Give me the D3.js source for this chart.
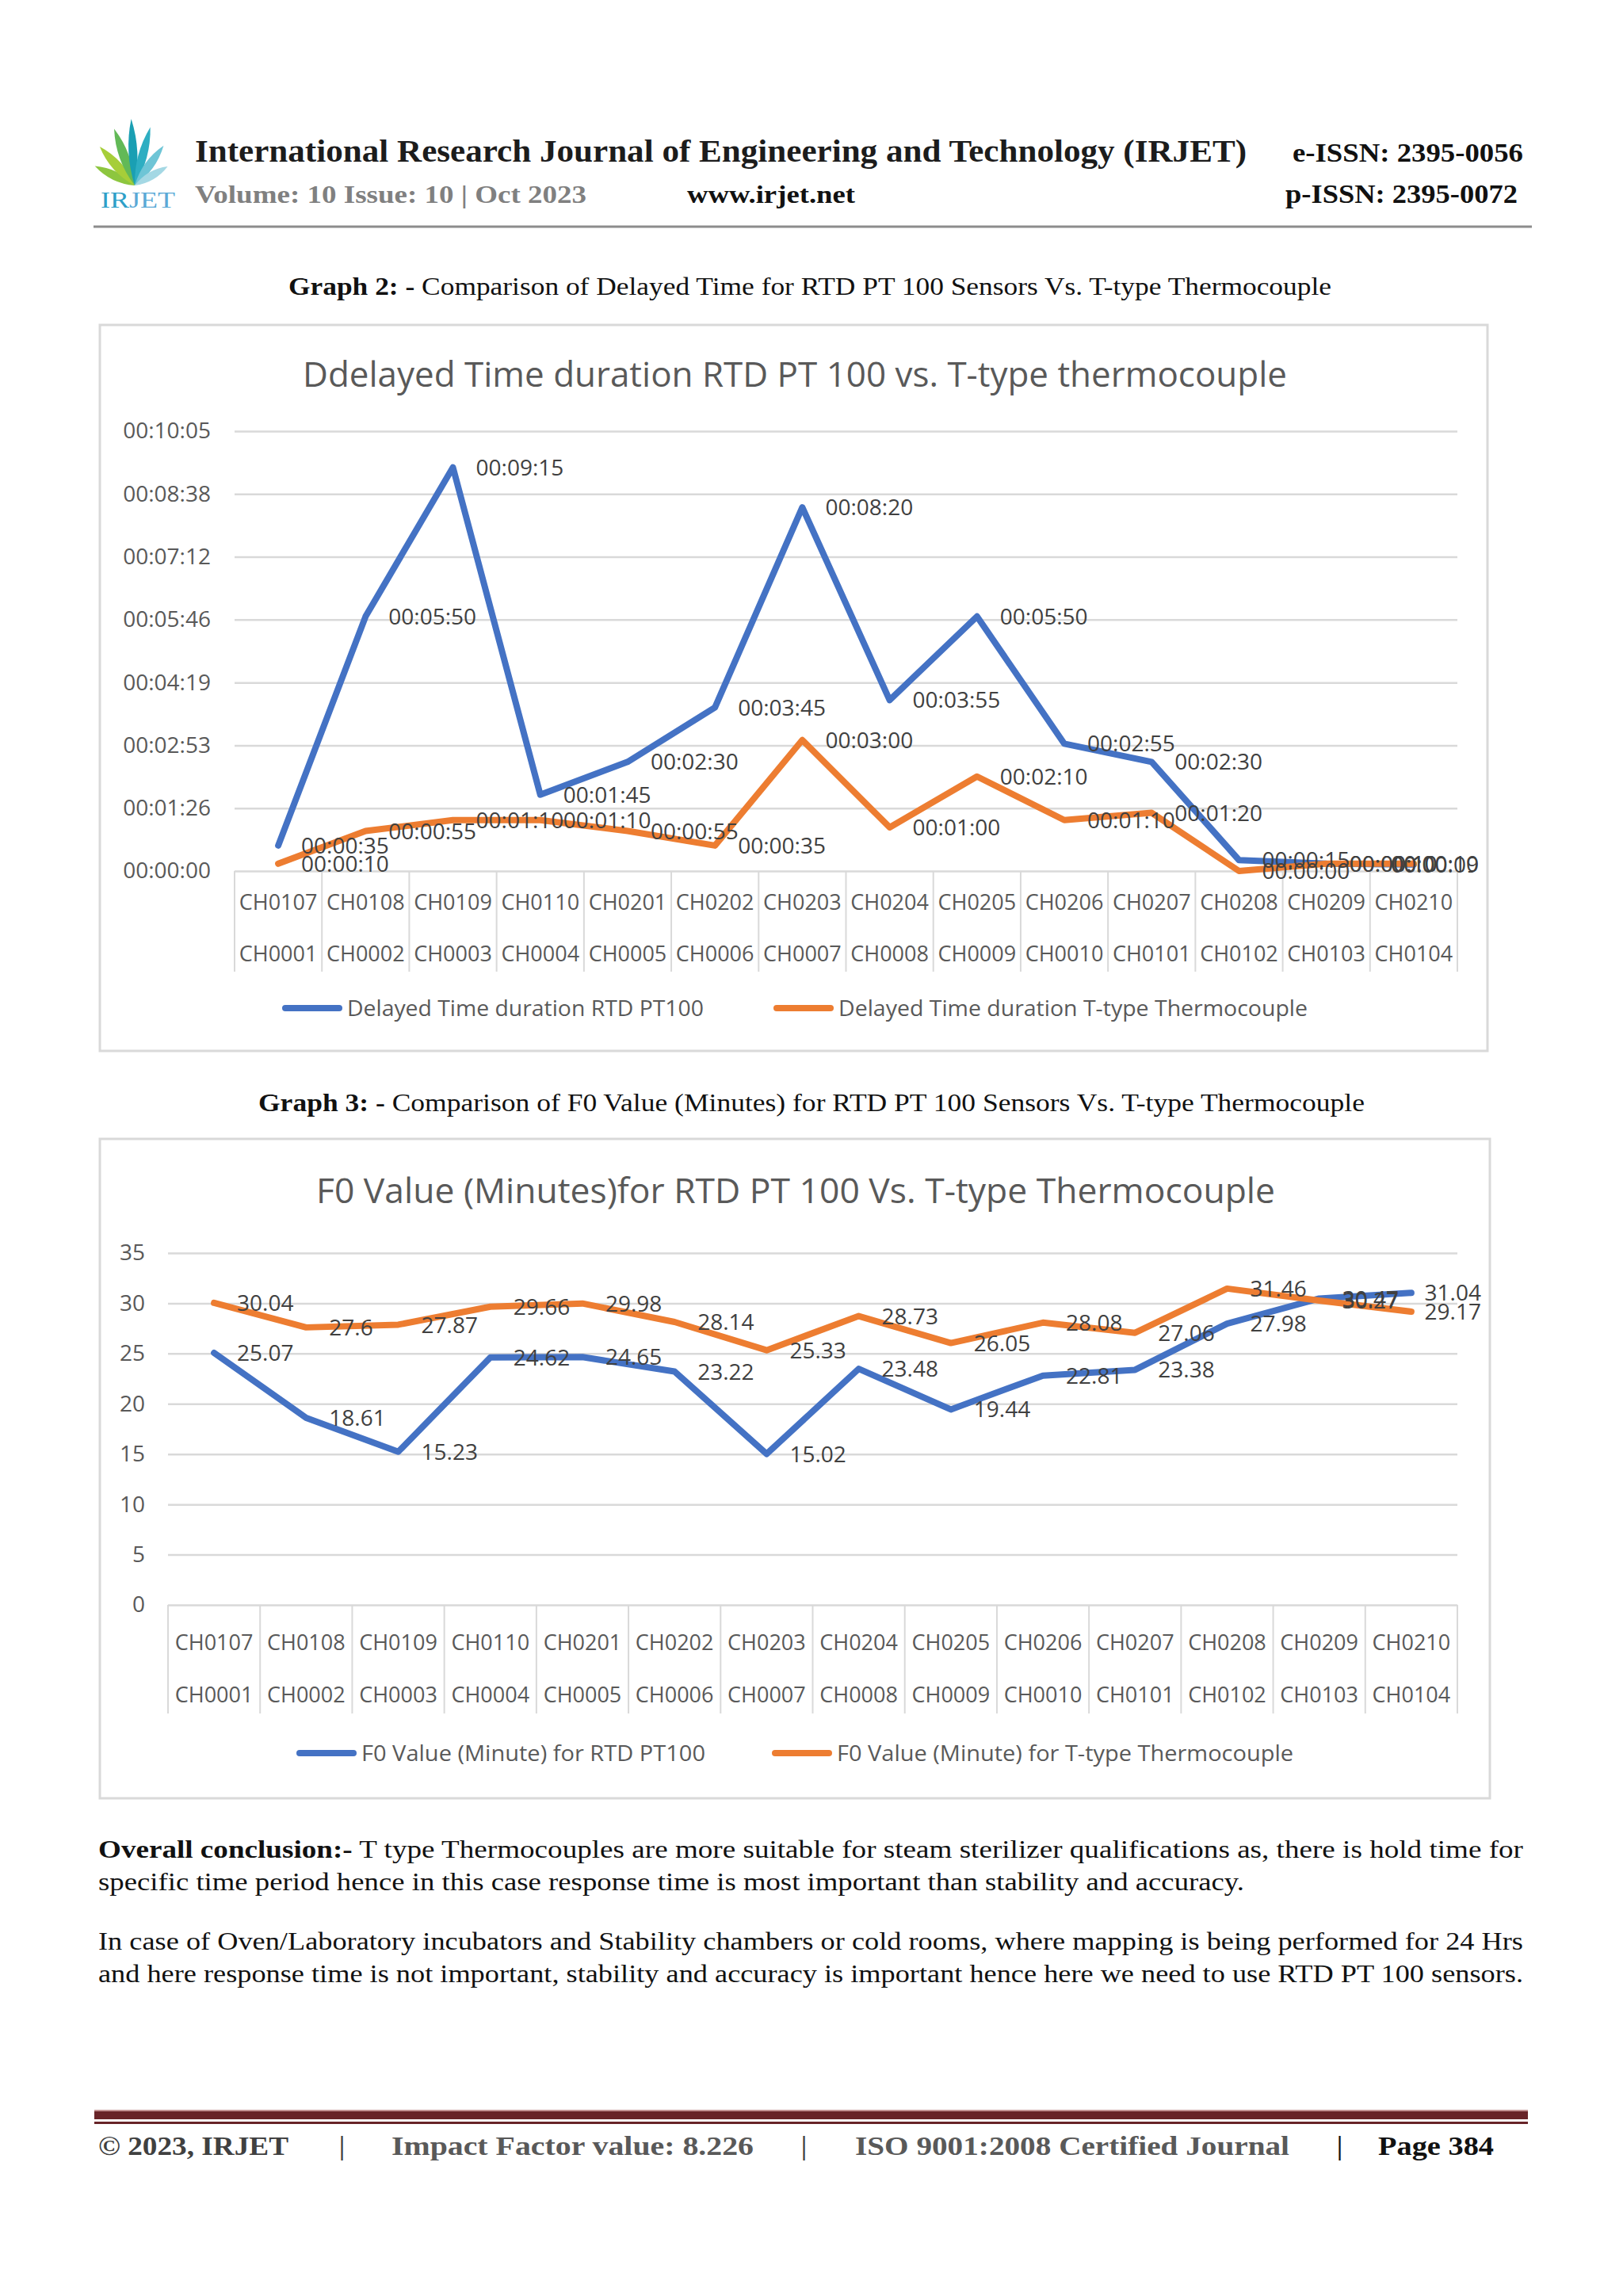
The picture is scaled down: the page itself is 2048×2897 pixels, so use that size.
<!DOCTYPE html>
<html>
<head>
<meta charset="utf-8">
<script src="https://cdn.jsdelivr.net/npm/d3@7"></script>
<style>
  body { margin: 0; background: #fff; }
</style>
</head>
<body>
<div id="page"></div>
<script>
// ---- data ----
const catRow1 = ['CH0107', 'CH0108', 'CH0109', 'CH0110', 'CH0201', 'CH0202', 'CH0203',
                 'CH0204', 'CH0205', 'CH0206', 'CH0207', 'CH0208', 'CH0209', 'CH0210'];
const catRow2 = ['CH0001', 'CH0002', 'CH0003', 'CH0004', 'CH0005', 'CH0006', 'CH0007',
                 'CH0008', 'CH0009', 'CH0010', 'CH0101', 'CH0102', 'CH0103', 'CH0104'];

const delayRtd = ['00:00:35', '00:05:50', '00:09:15', '00:01:45', '00:02:30', '00:03:45', '00:08:20',
                  '00:03:55', '00:05:50', '00:02:55', '00:02:30', '00:00:15', '00:00:10', '00:00:09'];
const delayTc = ['00:00:10', '00:00:55', '00:01:10', '00:01:10', '00:00:55', '00:00:35', '00:03:00',
                 '00:01:00', '00:02:10', '00:01:10', '00:01:20', '00:00:00', '00:00:10', '00:00:10'];
const timeTicks = ['00:00:00', '00:01:26', '00:02:53', '00:04:19', '00:05:46', '00:07:12', '00:08:38', '00:10:05'];

const f0Rtd = [25.07, 18.61, 15.23, 24.62, 24.65, 23.22, 15.02, 23.48, 19.44, 22.81, 23.38, 27.98, 30.47, 31.04];
const f0Tc = [30.04, 27.6, 27.87, 29.66, 29.98, 28.14, 25.33, 28.73, 26.05, 28.08, 27.06, 31.46, 30.27, 29.17];
const f0Ticks = ['0', '5', '10', '15', '20', '25', '30', '35'];

const toSec = s => { const p = s.split(':').map(Number); return p[0] * 3600 + p[1] * 60 + p[2]; };

const BLUE = '#4472c4', ORANGE = '#ed7d31';
const SERIF = 'Liberation Serif, serif';
const SANS = 'Open Sans, sans-serif';

const svg = d3.select('#page').append('svg')
    .attr('width', 2048)
    .attr('height', 2897)
    .style('background', '#fff');

// ---- page header ----
const leaves = [
    { a: -64, l: 56, w: 11, c: '#8dc63f' },
    { a: -42, l: 66, w: 12, c: '#a6ce39' },
    { a: -20, l: 76, w: 12, c: '#62b957' },
    { a: -3, l: 84, w: 11, c: '#1a9fb3' },
    { a: 15, l: 76, w: 11, c: '#2eaec2' },
    { a: 36, l: 62, w: 11, c: '#6ec5d6' },
    { a: 60, l: 48, w: 10, c: '#a4d8e4' },
];
svg.append('g')
    .attr('transform', 'translate(170,234)')
    .selectAll('path')
    .data(leaves)
    .join('path')
    .attr('d', d => `M0,0 Q${d.w},${-d.l / 2} 0,${-d.l} Q${-d.w},${-d.l / 2} 0,0 Z`)
    .attr('transform', d => `rotate(${d.a})`)
    .attr('fill', d => d.c);

const logoText = svg.append('text')
    .attr('x', 127).attr('y', 262)
    .attr('font-family', SERIF).attr('font-size', 30)
    .attr('textLength', 94).attr('lengthAdjust', 'spacingAndGlyphs');
logoText.append('tspan').attr('fill', '#2e9fc8').text('IR');
logoText.append('tspan').attr('fill', '#5aa9d6').text('JET');

function headText(x, y, txt, size, len, fill, weight) {
    svg.append('text')
        .attr('x', x).attr('y', y)
        .attr('font-family', SERIF).attr('font-size', size)
        .attr('font-weight', weight || 'bold')
        .attr('fill', fill)
        .attr('textLength', len).attr('lengthAdjust', 'spacingAndGlyphs')
        .text(txt);
}
headText(246, 204, 'International Research Journal of Engineering and Technology (IRJET)', 39, 1327, '#1c1c1c');
headText(1631, 204, 'e-ISSN: 2395-0056', 33, 291, '#111');
headText(246, 256, 'Volume: 10 Issue: 10 | Oct 2023', 31, 494, '#808080');
headText(867, 256, 'www.irjet.net', 31, 212, '#111');
headText(1622, 256, 'p-ISSN: 2395-0072', 33, 293, '#111');

svg.append('line')
    .attr('x1', 118).attr('x2', 1933).attr('y1', 286).attr('y2', 286)
    .attr('stroke', '#8c8c8c').attr('stroke-width', 3);

function caption(x, y, bold, rest, len) {
    const t = svg.append('text')
        .attr('x', x).attr('y', y)
        .attr('font-family', SERIF).attr('font-size', 31).attr('fill', '#111')
        .attr('textLength', len).attr('lengthAdjust', 'spacingAndGlyphs');
    t.append('tspan').attr('font-weight', 'bold').text(bold);
    t.append('tspan').text(rest);
}
caption(364, 372, 'Graph 2: -', ' Comparison of Delayed Time for RTD PT 100 Sensors Vs. T-type Thermocouple', 1316);
caption(326, 1402, 'Graph 3: -', ' Comparison of F0 Value (Minutes) for RTD PT 100 Sensors Vs. T-type Thermocouple', 1396);

// ---- chart drawing ----
function drawChart(cfg) {
    const g = svg.append('g');

    g.append('rect')
        .attr('x', cfg.box.x).attr('y', cfg.box.y)
        .attr('width', cfg.box.w).attr('height', cfg.box.h)
        .attr('fill', '#fff').attr('stroke', '#d9d9d9').attr('stroke-width', 3);

    // title: start-anchored, stretched to the measured width
    g.append('text')
        .attr('x', cfg.titleX).attr('y', cfg.titleY)
        .attr('font-family', SANS).attr('font-size', 44).attr('fill', '#595959')
        .attr('textLength', cfg.titleLen).attr('lengthAdjust', 'spacingAndGlyphs')
        .text(cfg.title);

    const x = d3.scaleBand().domain(catRow1).range([cfg.x0, cfg.x1]);
    const y = d3.scaleLinear().domain(cfg.domain).range([cfg.y0, cfg.y1]);
    const cx = i => x(catRow1[i]) + x.bandwidth() / 2;

    // gridlines and value axis labels
    g.append('g')
        .attr('transform', `translate(${cfg.x0},0)`)
        .call(d3.axisLeft(y)
            .tickValues(cfg.tickValues)
            .tickSize(-(cfg.x1 - cfg.x0))
            .tickPadding(cfg.pad)
            .tickFormat((d, i) => cfg.tickLabels[i]))
        .attr('font-family', SANS).attr('font-size', 28)
        .call(a => a.select('.domain').remove())
        .call(a => a.selectAll('line').attr('stroke', '#d9d9d9').attr('stroke-width', 2.5))
        .call(a => a.selectAll('text').attr('fill', '#595959'));

    // category separators
    const bounds = catRow1.map(c => x(c)).concat([cfg.x1]);
    g.selectAll('.sep')
        .data(bounds)
        .join('line')
        .attr('x1', d => d).attr('x2', d => d)
        .attr('y1', cfg.y0).attr('y2', cfg.sepBottom)
        .attr('stroke', '#d9d9d9').attr('stroke-width', 2);

    [catRow1, catRow2].forEach((row, r) => {
        g.append('g').selectAll('text')
            .data(row)
            .join('text')
            .attr('x', (d, i) => cx(i))
            .attr('y', cfg.rowY[r])
            .attr('text-anchor', 'middle')
            .attr('font-family', SANS).attr('font-size', 27).attr('fill', '#595959')
            .text(d => d);
    });

    const line = d3.line().x((d, i) => cx(i)).y(d => y(d));
    cfg.series.forEach(s => {
        g.append('path')
            .datum(s.values)
            .attr('d', line)
            .attr('fill', 'none')
            .attr('stroke', s.color).attr('stroke-width', 8)
            .attr('stroke-linejoin', 'round').attr('stroke-linecap', 'round');
    });

    const maxRight = cfg.box.x + cfg.box.w - 11;
    cfg.series.forEach(s => {
        s.values.forEach((v, i) => {
            const t = g.append('text')
                .attr('y', y(v)).attr('dy', '0.36em')
                .attr('font-family', SANS).attr('font-size', 28).attr('fill', '#404040')
                .text(s.labels[i]);
            const w = t.node().getComputedTextLength();
            t.attr('x', Math.min(cx(i) + 29, maxRight - w));
        });
    });

    // legend
    cfg.series.forEach(s => {
        g.append('line')
            .attr('x1', s.lx).attr('x2', s.lx + 68)
            .attr('y1', cfg.legendY).attr('y2', cfg.legendY)
            .attr('stroke', s.color).attr('stroke-width', 8).attr('stroke-linecap', 'round');
        g.append('text')
            .attr('x', s.lx + 78).attr('y', cfg.legendY).attr('dy', '0.36em')
            .attr('font-family', SANS).attr('font-size', 27).attr('fill', '#595959')
            .attr('textLength', s.tlen).attr('lengthAdjust', 'spacingAndGlyphs')
            .text(s.name);
    });
}

drawChart({
    box: { x: 126, y: 410, w: 1751, h: 916 },
    title: 'Ddelayed Time duration RTD PT 100 vs. T-type thermocouple',
    titleX: 382, titleY: 488, titleLen: 1242,
    x0: 296, x1: 1839, y0: 1099, y1: 544,
    domain: [0, 604.8],
    tickValues: d3.range(timeTicks.length).map(i => i * 86.4),
    tickLabels: timeTicks,
    pad: 30,
    sepBottom: 1226,
    rowY: [1148, 1213],
    legendY: 1272,
    series: [
        { name: 'Delayed Time duration RTD PT100', color: BLUE, values: delayRtd.map(toSec), labels: delayRtd, lx: 360, tlen: 450 },
        { name: 'Delayed Time duration T-type Thermocouple', color: ORANGE, values: delayTc.map(toSec), labels: delayTc, lx: 980, tlen: 592 },
    ],
});

drawChart({
    box: { x: 126, y: 1437, w: 1754, h: 832 },
    title: 'F0 Value (Minutes)for RTD PT 100 Vs. T-type Thermocouple',
    titleX: 399, titleY: 1518, titleLen: 1210,
    x0: 212, x1: 1839, y0: 2025, y1: 1581,
    domain: [0, 35],
    tickValues: f0Ticks.map(Number),
    tickLabels: f0Ticks,
    pad: 29,
    sepBottom: 2162,
    rowY: [2082, 2148],
    legendY: 2212,
    series: [
        { name: 'F0 Value (Minute) for RTD PT100', color: BLUE, values: f0Rtd, labels: f0Rtd.map(String), lx: 378, tlen: 434 },
        { name: 'F0 Value (Minute) for T-type Thermocouple', color: ORANGE, values: f0Tc, labels: f0Tc.map(String), lx: 978, tlen: 576 },
    ],
});

// ---- conclusion text ----
const paraLines = [
    { y: 2344, len: 1798, parts: [['Overall conclusion:-', 'bold'], [' T type Thermocouples are more suitable for steam sterilizer qualifications as, there is hold time for', 'normal']] },
    { y: 2385, len: 1446, parts: [['specific time period hence in this case response time is most important than stability and accuracy.', 'normal']] },
    { y: 2460, len: 1798, parts: [['In case of Oven/Laboratory incubators and Stability chambers or cold rooms, where mapping is being performed for 24 Hrs', 'normal']] },
    { y: 2501, len: 1798, parts: [['and here response time is not important, stability and accuracy is important hence here we need to use RTD PT 100 sensors.', 'normal']] },
];
paraLines.forEach(p => {
    const t = svg.append('text')
        .attr('x', 124).attr('y', p.y)
        .attr('font-family', SERIF).attr('font-size', 31).attr('fill', '#111')
        .attr('textLength', p.len).attr('lengthAdjust', 'spacingAndGlyphs');
    p.parts.forEach(([txt, w]) => t.append('tspan').attr('font-weight', w).text(txt));
});

// ---- footer ----
svg.append('line').attr('x1', 119).attr('x2', 1928).attr('y1', 2663).attr('y2', 2663)
    .attr('stroke', '#b07070').attr('stroke-width', 1.5);
svg.append('rect').attr('x', 119).attr('y', 2664).attr('width', 1809).attr('height', 10).attr('fill', '#682428');
svg.append('rect').attr('x', 119).attr('y', 2677).attr('width', 1809).attr('height', 3).attr('fill', '#682428');

const footer = [
    { x: 124, len: 240, txt: '\u00a9 2023, IRJET', fill: '#404040' },
    { x: 428, len: 7, txt: '|', fill: '#404040' },
    { x: 494, len: 457, txt: 'Impact Factor value: 8.226', fill: '#595959' },
    { x: 1011, len: 7, txt: '|', fill: '#404040' },
    { x: 1079, len: 548, txt: 'ISO 9001:2008 Certified Journal', fill: '#595959' },
    { x: 1687, len: 7, txt: '|', fill: '#111' },
    { x: 1739, len: 146, txt: 'Page 384', fill: '#111' },
];
svg.append('g').selectAll('text')
    .data(footer)
    .join('text')
    .attr('x', d => d.x).attr('y', 2719)
    .attr('font-family', SERIF).attr('font-size', 34).attr('font-weight', 'bold')
    .attr('fill', d => d.fill)
    .attr('textLength', d => d.len).attr('lengthAdjust', 'spacingAndGlyphs')
    .text(d => d.txt);
</script>
</body>
</html>
